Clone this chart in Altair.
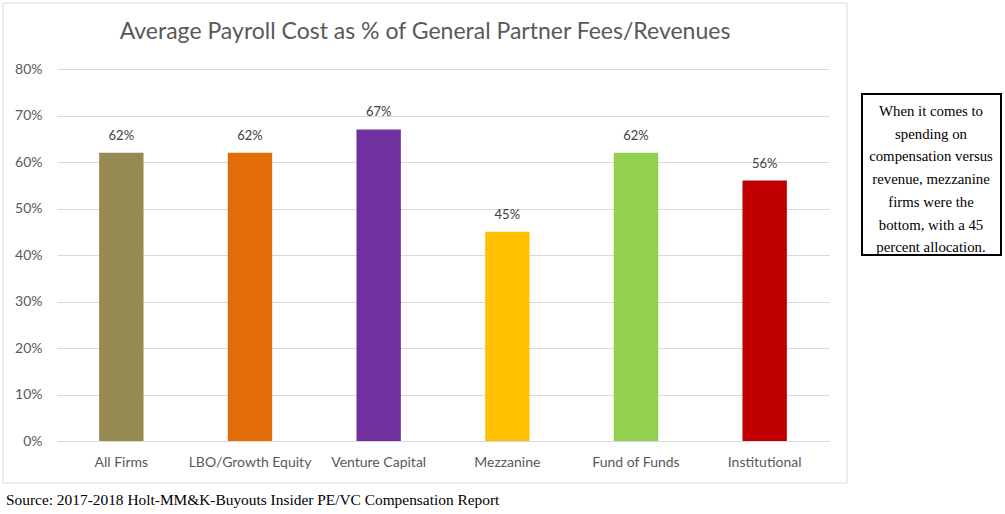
import altair as alt
import pandas as pd

categories = ["All Firms", "LBO/Growth Equity", "Venture Capital", "Mezzanine", "Fund of Funds", "Institutional"]
values = [0.62, 0.62, 0.67, 0.45, 0.62, 0.56]
colors = ["#968A52", "#E36C0A", "#7030A0", "#FFC000", "#92D050", "#C00000"]
labels = ["62%", "62%", "67%", "45%", "62%", "56%"]

title_text = "Average Payroll Cost as % of General Partner Fees/Revenues"
note_lines = ["When it comes to", "spending on", "compensation versus", "revenue, mezzanine",
              "firms were the", "bottom, with a 45", "percent allocation."]
source_text = "Source: 2017-2018 Holt-MM&K-Buyouts Insider PE/VC Compensation Report"

df = pd.DataFrame({"cat": categories, "val": values, "label": labels})
one_row = pd.DataFrame({"k": [0]})

W, H = 772, 372
FONT = "Lato"
GRAY = "#595959"

x = alt.X("cat:N", sort=categories, title=None,
          scale=alt.Scale(paddingInner=0.655, paddingOuter=0.3275),
          axis=alt.Axis(labelAngle=0, ticks=False, domain=True, domainColor="#D9D9D9",
                        labelFont=FONT, labelFontSize=14, labelColor=GRAY, labelPadding=14))
y = alt.Y("val:Q", title=None,
          scale=alt.Scale(domain=[0, 0.8], nice=False),
          axis=alt.Axis(format=".0%", values=[0, .1, .2, .3, .4, .5, .6, .7, .8],
                        ticks=False, domain=False, gridColor="#D9D9D9",
                        labelFont=FONT, labelFontSize=14, labelColor=GRAY, labelPadding=15))

bars = alt.Chart(df).mark_bar().encode(
    x=x, y=y,
    color=alt.Color("cat:N", sort=categories,
                    scale=alt.Scale(domain=categories, range=colors), legend=None),
)

bar_labels = alt.Chart(df).mark_text(font=FONT, fontSize=13, fontWeight="normal", color="#404040",
                                     baseline="alphabetic", dy=-13).encode(
    x=alt.X("cat:N", sort=categories), y="val:Q", text="label:N")

frame = alt.Chart(one_row).mark_rect(fill=None, stroke="#D9D9D9", strokeWidth=1).encode(
    x=alt.value(-54), x2=alt.value(790), y=alt.value(-66), y2=alt.value(414))

title = alt.Chart(one_row).mark_text(text=title_text, font=FONT, fontSize=23, fontWeight="normal",
                                     fill=GRAY, align="center", baseline="middle").encode(
    x=alt.value(368), y=alt.value(-37))

note_box = alt.Chart(one_row).mark_rect(fill="white", stroke="black", strokeWidth=2).encode(
    x=alt.value(805), x2=alt.value(944), y=alt.value(25), y2=alt.value(186))

note = alt.Chart(one_row).mark_text(text=note_lines, font="Liberation Serif", fontSize=14.8,
                                    fontWeight="normal", fill="#000000",
                                    align="center", baseline="middle", lineHeight=22.7).encode(
    x=alt.value(874), y=alt.value(43))

source = alt.Chart(one_row).mark_text(text=source_text, font="Liberation Serif", fontSize=15.4,
                                      fontWeight="normal", fill="#000000",
                                      align="left", baseline="middle").encode(
    x=alt.value(-51), y=alt.value(431))

chart = alt.layer(frame, bars, bar_labels, title, note_box, note, source).properties(
    width=W, height=H,
    autosize=alt.AutoSizeParams(type="none"),
    padding={"left": 57, "top": 69, "right": 1005 - 57 - W, "bottom": 514 - 69 - H},
    background="white",
).configure_view(stroke=None)

chart.save("out.html", embed_options={"renderer": "svg", "actions": False})
